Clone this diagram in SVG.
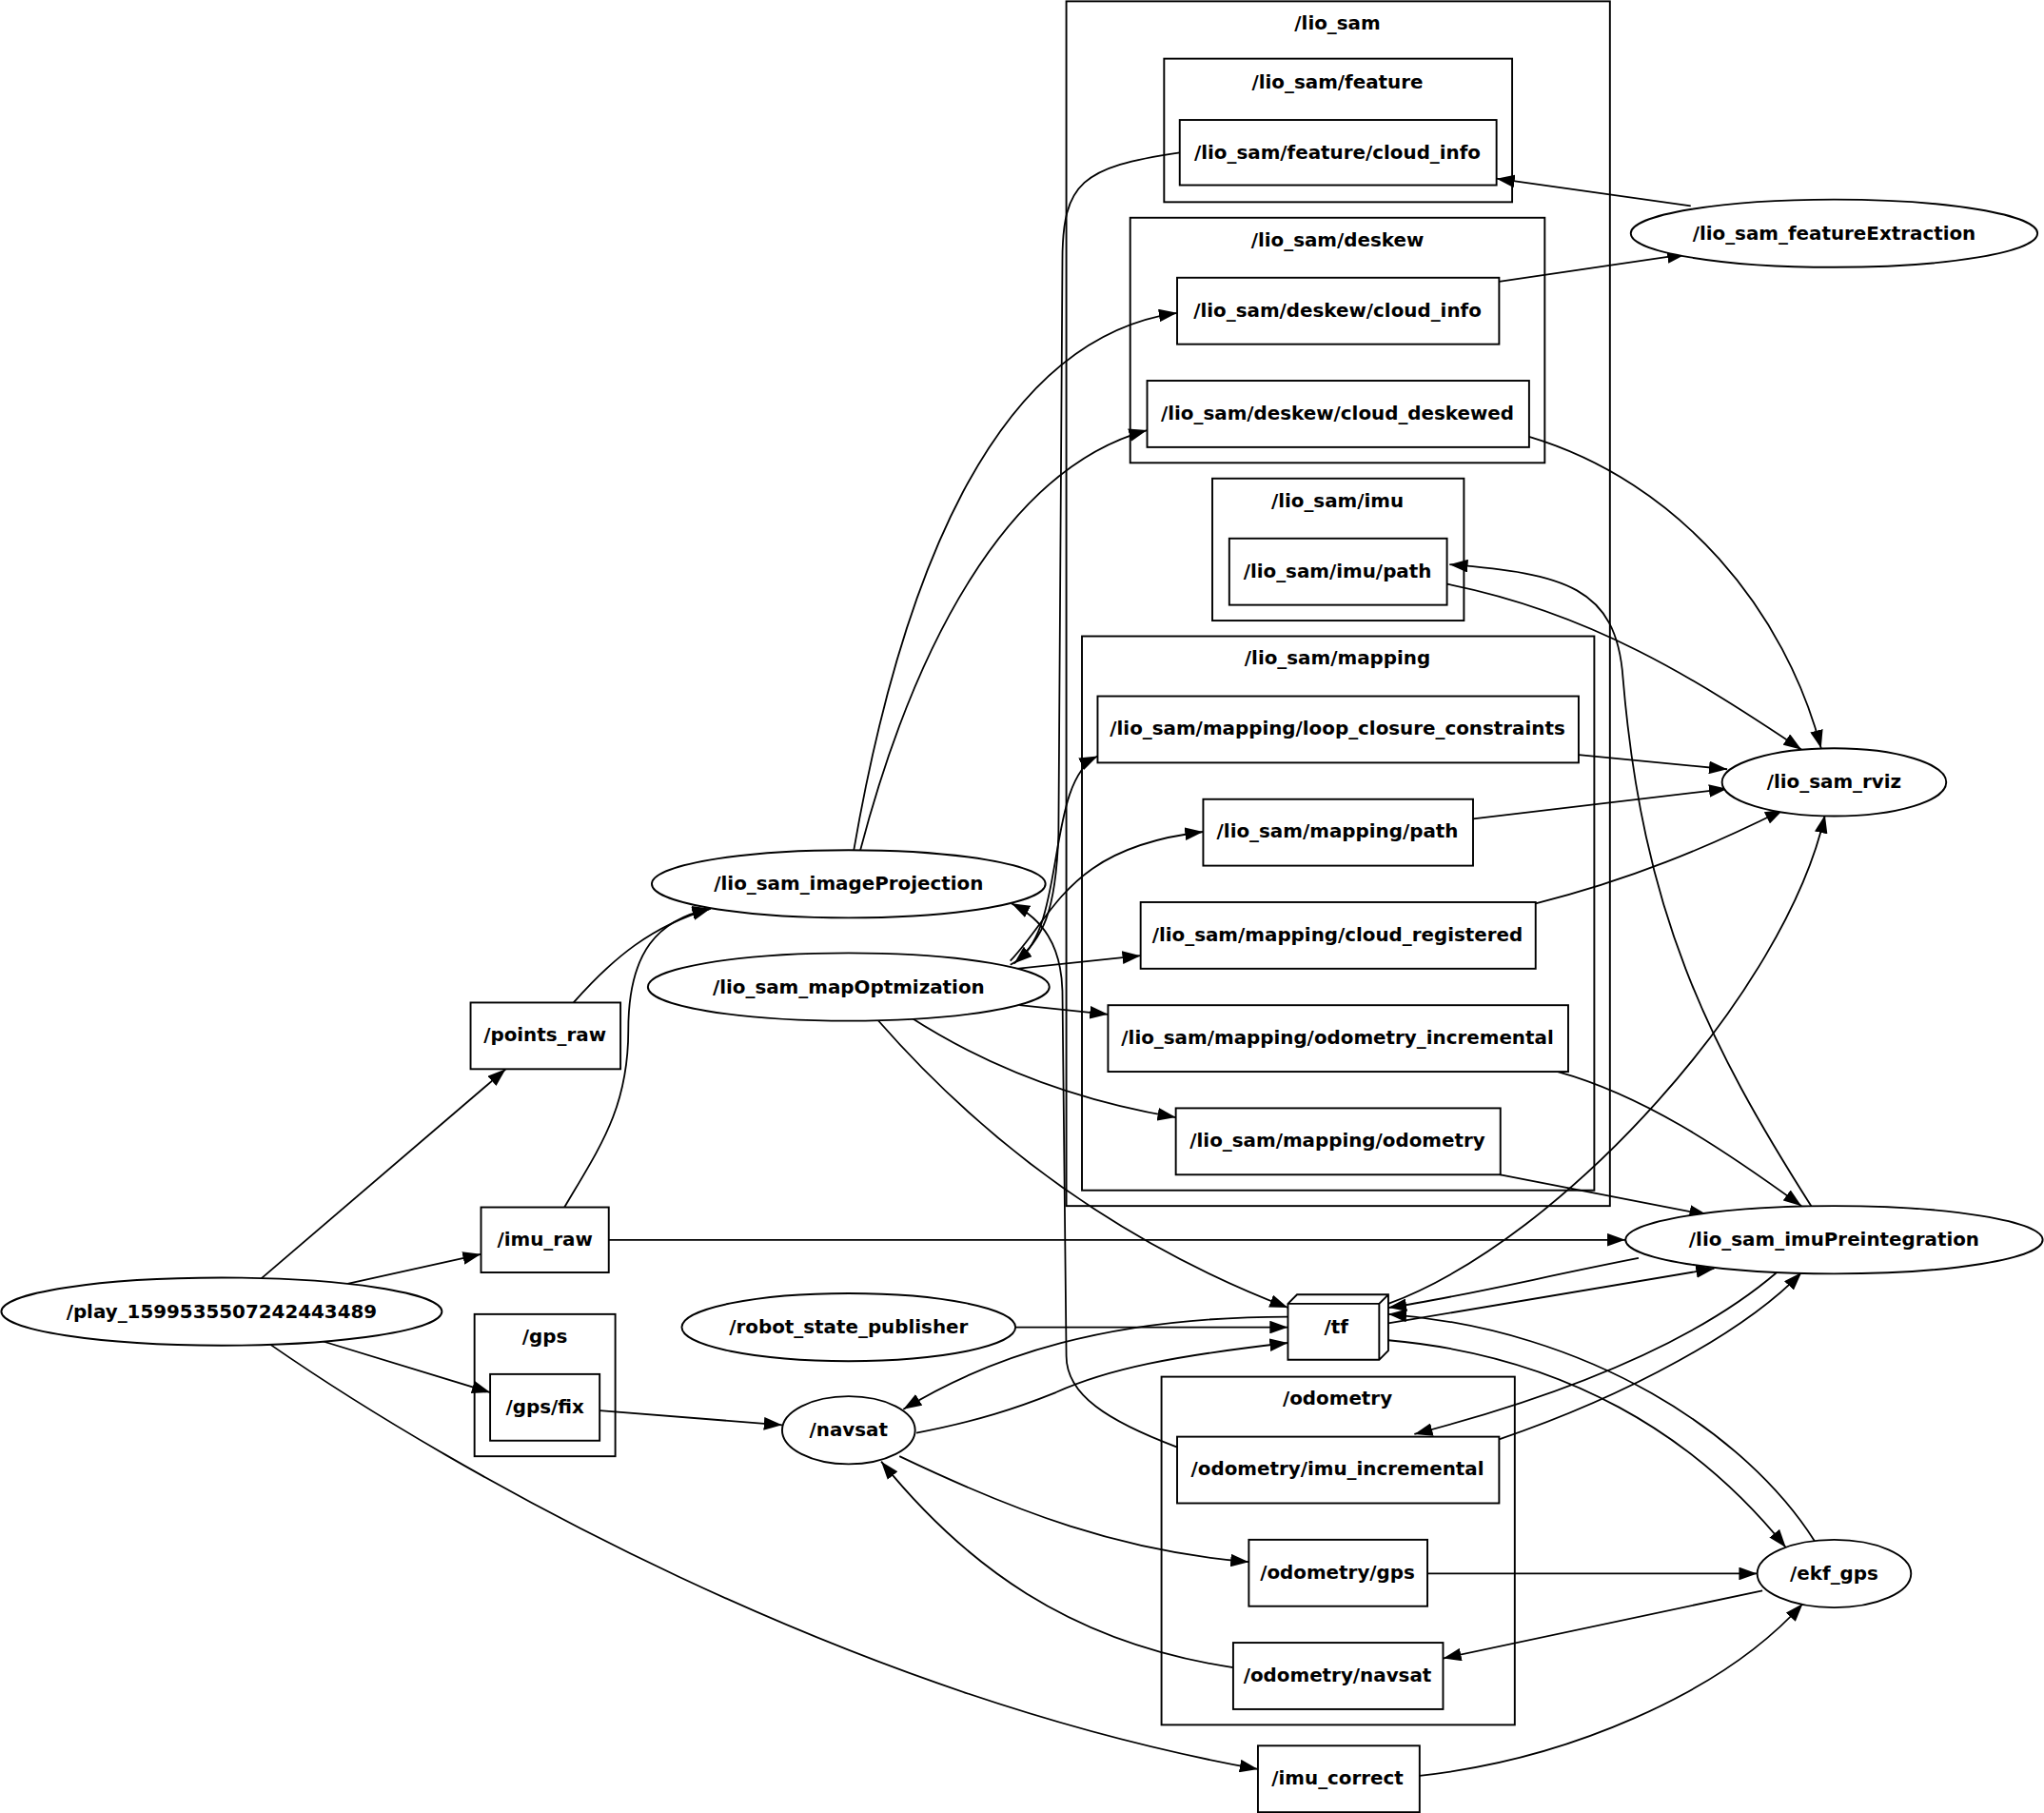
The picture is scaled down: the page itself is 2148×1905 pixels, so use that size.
<svg xmlns="http://www.w3.org/2000/svg" width="2148" height="1905" viewBox="0 0 2148 1905">
<style>
.c,.n{fill:none;stroke:#000;stroke-width:1.4}
.n{fill:#fff}
text{font-family:"DejaVu Sans","Liberation Sans",sans-serif;font-weight:bold;font-size:14.5px;text-anchor:middle;dominant-baseline:central;fill:#000}
.e path{fill:none;stroke:#000;stroke-width:1.3;marker-end:url(#a)}
</style>
<defs><marker id="a" viewBox="0 0 10 10" refX="10" refY="5" markerWidth="14" markerHeight="10" markerUnits="userSpaceOnUse" orient="auto" preserveAspectRatio="none"><path d="M0,0L10,5L0,10z" fill="#000"/></marker></defs>
<rect width="2148" height="1905" fill="#fff"/>
<g transform="scale(1.3699)">
<g id="clusters">
<rect class="c" x="818" y="1" width="417" height="924"/><text x="1026" y="18">/lio_sam</text>
<rect class="c" x="893" y="45" width="267" height="110"/><text x="1026" y="63">/lio_sam/feature</text>
<rect class="c" x="867" y="167" width="318" height="188"/><text x="1026" y="184">/lio_sam/deskew</text>
<rect class="c" x="930" y="367" width="193" height="109"/><text x="1026" y="384">/lio_sam/imu</text>
<rect class="c" x="830" y="488" width="393" height="425"/><text x="1026" y="505">/lio_sam/mapping</text>
<rect class="c" x="364" y="1008" width="108" height="109"/><text x="418" y="1025">/gps</text>
<rect class="c" x="891" y="1056" width="271" height="267"/><text x="1026" y="1073">/odometry</text>
</g>
<g id="edges" class="e">
<path d="M200,981 L388,820"/>
<path d="M265,985 L369,962"/>
<path d="M245,1028 L376,1068"/>
<path d="M207,1031 C350,1130 650,1300 965,1357"/>
<path d="M440,769 C470,735 500,710 545,697"/>
<path d="M433,926 C460,880 482,850 482,790 C482,730 505,705 545,697"/>
<path d="M467,951 L1247,951"/>
<path d="M460,1082 L600,1093"/>
<path d="M655,652 C690,450 760,260 903,240"/>
<path d="M660,652 C700,500 770,360 880,330"/>
<path d="M905,117 C830,128 815,140 815,200 L812,640 C810,700 800,720 778,739"/>
<path d="M903,1110 C850,1090 818,1070 818,1040 L815,760 C814,725 800,705 776,693"/>
<path d="M775,740 C820,720 800,600 842,580"/>
<path d="M775,737 C810,700 820,650 923,638"/>
<path d="M780,743 L875,733"/>
<path d="M782,771 L850,778"/>
<path d="M698,780 C760,820 830,845 902,857"/>
<path d="M673,782 C750,870 850,950 988,1003"/>
<path d="M1150,216 L1293,195"/>
<path d="M1297,158 L1148,137"/>
<path d="M1173,335 C1290,370 1370,470 1397,574"/>
<path d="M1110,448 C1220,470 1300,520 1382,575"/>
<path d="M1211,579 L1325,590"/>
<path d="M1130,628 L1325,605"/>
<path d="M1178,693 C1250,675 1310,650 1368,621"/>
<path d="M1195,822 C1260,840 1320,880 1382,925"/>
<path d="M1151,901 L1310,932"/>
<path d="M1390,926 C1310,800 1260,700 1245,520 C1240,450 1200,440 1112,433"/>
<path d="M1065,1000 C1200,950 1370,760 1400,625"/>
<path d="M1257,965 C1180,980 1120,995 1065,1003"/>
<path d="M1065,1015 L1315,973"/>
<path d="M1363,976 C1300,1030 1200,1070 1085,1100"/>
<path d="M1150,1104 C1250,1070 1340,1020 1382,976"/>
<path d="M779,1018 L988,1018"/>
<path d="M703,1099 C750,1090 780,1080 810,1068 C850,1050 900,1040 988,1030"/>
<path d="M988,1010 C850,1010 760,1040 693,1081"/>
<path d="M690,1117 C780,1160 860,1190 958,1198"/>
<path d="M946,1279 C820,1260 740,1200 676,1121"/>
<path d="M1095,1207 L1348,1207"/>
<path d="M1352,1220 L1107,1272"/>
<path d="M1089,1362 C1200,1350 1320,1300 1383,1230"/>
<path d="M1392,1182 C1340,1100 1220,1020 1065,1008"/>
<path d="M1065,1028 C1200,1040 1300,1100 1370,1187"/>
</g>
<g id="n_feat_ci"><rect class="n" x="905" y="92" width="243" height="50"/><text x="1026" y="117">/lio_sam/feature/cloud_info</text></g>
<g id="n_desk_ci"><rect class="n" x="903" y="213" width="247" height="51"/><text x="1026" y="238">/lio_sam/deskew/cloud_info</text></g>
<g id="n_desk_cd"><rect class="n" x="880" y="292" width="293" height="51"/><text x="1026" y="317">/lio_sam/deskew/cloud_deskewed</text></g>
<g id="n_imu_path"><rect class="n" x="943" y="413" width="167" height="51"/><text x="1026" y="438">/lio_sam/imu/path</text></g>
<g id="n_loop"><rect class="n" x="842" y="534" width="369" height="51"/><text x="1026" y="559">/lio_sam/mapping/loop_closure_constraints</text></g>
<g id="n_mpath"><rect class="n" x="923" y="613" width="207" height="51"/><text x="1026" y="638">/lio_sam/mapping/path</text></g>
<g id="n_creg"><rect class="n" x="875" y="692" width="303" height="51"/><text x="1026" y="717">/lio_sam/mapping/cloud_registered</text></g>
<g id="n_oinc"><rect class="n" x="850" y="771" width="353" height="51"/><text x="1026" y="796">/lio_sam/mapping/odometry_incremental</text></g>
<g id="n_odom"><rect class="n" x="902" y="850" width="249" height="51"/><text x="1026" y="875">/lio_sam/mapping/odometry</text></g>
<g id="n_gpsfix"><rect class="n" x="376" y="1054" width="84" height="51"/><text x="418" y="1079">/gps/fix</text></g>
<g id="n_oimu"><rect class="n" x="903" y="1102" width="247" height="51"/><text x="1026" y="1127">/odometry/imu_incremental</text></g>
<g id="n_ogps"><rect class="n" x="958" y="1181" width="137" height="51"/><text x="1026" y="1206">/odometry/gps</text></g>
<g id="n_onav"><rect class="n" x="946" y="1260" width="161" height="51"/><text x="1026" y="1285">/odometry/navsat</text></g>
<g id="n_points"><rect class="n" x="361" y="769" width="115" height="51"/><text x="418" y="794">/points_raw</text></g>
<g id="n_imuraw"><rect class="n" x="369" y="926" width="98" height="50"/><text x="418" y="951">/imu_raw</text></g>
<g id="n_imucor"><rect class="n" x="965" y="1339" width="124" height="51"/><text x="1026" y="1364">/imu_correct</text></g>
<g id="n_tf"><path class="n" d="M988,1000 L995,993 L1065,993 L1065,1036 L1058,1043 L988,1043 Z M988,1000 L1058,1000 L1058,1043 M1058,1000 L1065,993"/><text x="1025" y="1018">/tf</text></g>
<g id="n_play"><ellipse class="n" cx="170" cy="1006" rx="169" ry="26"/><text x="170" y="1006">/play_1599535507242443489</text></g>
<g id="n_imgp"><ellipse class="n" cx="651" cy="678" rx="151" ry="26"/><text x="651" y="678">/lio_sam_imageProjection</text></g>
<g id="n_mapo"><ellipse class="n" cx="651" cy="757" rx="154" ry="26"/><text x="651" y="757">/lio_sam_mapOptmization</text></g>
<g id="n_rsp"><ellipse class="n" cx="651" cy="1018" rx="128" ry="26"/><text x="651" y="1018">/robot_state_publisher</text></g>
<g id="n_navsat"><ellipse class="n" cx="651" cy="1097" rx="51" ry="26"/><text x="651" y="1097">/navsat</text></g>
<g id="n_fext"><ellipse class="n" cx="1407" cy="179" rx="156" ry="26"/><text x="1407" y="179">/lio_sam_featureExtraction</text></g>
<g id="n_rviz"><ellipse class="n" cx="1407" cy="600" rx="86" ry="26"/><text x="1407" y="600">/lio_sam_rviz</text></g>
<g id="n_imup"><ellipse class="n" cx="1407" cy="951" rx="160" ry="26"/><text x="1407" y="951">/lio_sam_imuPreintegration</text></g>
<g id="n_ekf"><ellipse class="n" cx="1407" cy="1207" rx="59" ry="26"/><text x="1407" y="1207">/ekf_gps</text></g>
</g>
</svg>
